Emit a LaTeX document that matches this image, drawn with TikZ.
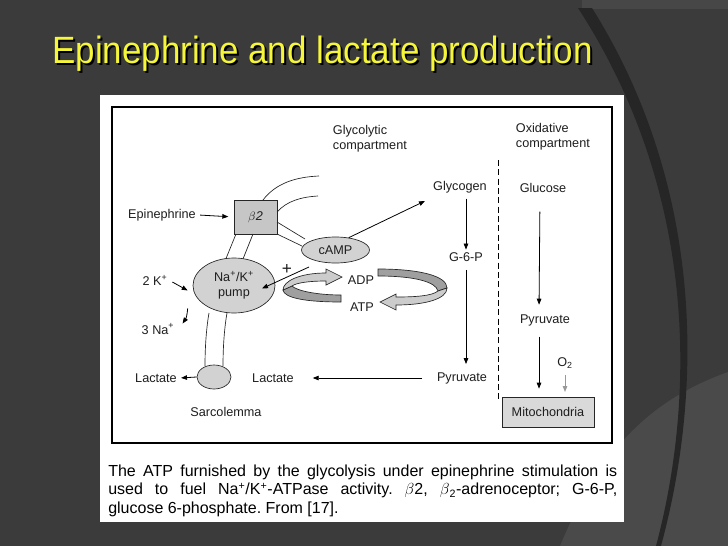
\documentclass[tikz,border=0pt]{standalone}
\usepackage{fontspec}
\setmainfont{Liberation Sans}
\usetikzlibrary{arrows.meta,shapes.geometric}
\definecolor{bg}{HTML}{3B3B3B}
\definecolor{bgtop}{HTML}{474747}
\definecolor{bglight}{HTML}{4A4A4A}
\definecolor{bgdark}{HTML}{262626}
\definecolor{ttl}{HTML}{F5F53A}
\definecolor{txt}{HTML}{1E1E1E}
\newcommand{\labfont}{\fontsize{9.5}{11.25}\selectfont}
\begin{document}
\frenchspacing
\begin{tikzpicture}[x=0.75pt,y=-0.75pt,
  lab/.style={font=\labfont, text=txt, inner sep=2pt},
  arr/.style={-{Triangle[length=4.5pt,width=3.4pt]}, line width=0.6pt, draw=black},
  garr/.style={-{Triangle[length=4.5pt,width=3.4pt]}, line width=0.7pt, draw=gray!80, color=gray!80},
  memb/.style={line width=0.5pt, draw=black!85},
  grayshape/.style={draw=black!85, line width=0.5pt, fill=gray!35},
  ribbonlight/.style={draw=black!85, line width=0.5pt, fill=gray!40},
  ribbondark/.style={draw=black!85, line width=0.5pt, fill=gray!75}
]
\useasboundingbox (0,0) rectangle (728,546);
% background
\fill[bg] (0,0) rectangle (728,546);
\fill[bgtop] (582,0) rectangle (728,9);
\fill[bglight] (560,546) .. controls (600,450) and (650,400) .. (728,372) -- (728,546) -- cycle;
\fill[bgdark] (578,8) .. controls (690,180) and (700,380) .. (656,546) -- (661,546) .. controls (706,380) and (700,180) .. (592,8) -- cycle;
% title
\node[anchor=base west, xscale=0.92, inner sep=0, font=\fontsize{28.5}{34}\selectfont, text=black] (titleshadow) at (54,65) {Epinephrine and lactate production};
\node[anchor=base west, xscale=0.92, inner sep=0, font=\fontsize{28.5}{34}\selectfont, text=ttl] (title) at (52,63) {Epinephrine and lactate production};
% white panel and frame
\fill[white] (100,95) rectangle (624,522);
\draw[line width=1.5pt] (112,107) rectangle (612,443);
% compartment labels
\node[lab, anchor=west, align=left] (glycomp) at (330,139) {Glycolytic\\compartment};
\node[lab, anchor=west, align=left] (oxcomp) at (513,137) {Oxidative\\compartment};
% dashed separator
\coordinate (dtop) at (498,160);
\coordinate (dbot) at (498,402);
\draw[line width=0.6pt, dash pattern=on 4.5pt off 2.5pt] (dtop) -- (dbot);
% glycolytic pathway
\node[lab] (glycogen) at (460,187) {Glycogen};
\node[lab] (g6p) at (466,257) {G-6-P};
\node[lab] (pyrg) at (462,378) {Pyruvate};
\node[lab] (lacm) at (273,378) {Lactate};
\draw[arr, shorten <=2pt] (glycogen.south -| g6p.north) -- (g6p.north);
\draw[arr, shorten <=4pt, shorten >=4pt] (g6p.south) -- (g6p.south |- pyrg.north);
\draw[arr, shorten <=9pt, shorten >=12pt] (pyrg.west) -- (lacm.east);
% oxidative pathway
\node[lab] (glucose) at (543,188) {Glucose};
\node[lab] (pyro) at (545,320) {Pyruvate};
\node[lab] (o2) at (565,363) {O\textsubscript{2}};
\node[draw=black!85, line width=0.5pt, fill=gray!30, minimum width=69pt, minimum height=22.5pt, font=\labfont, text=txt] (mito) at (548,412) {Mitochondria};
\draw[arr, shorten <=12pt, shorten >=5pt] ([xshift=-2.25pt]glucose.south) -- ([xshift=-4.5pt]pyro.north);
\draw[arr, shorten <=6pt, shorten >=6pt] ([xshift=-4.5pt]pyro.south) -- ([xshift=-4.5pt]pyro.south |- mito.north);
\draw[garr, shorten <=3pt, shorten >=3.5pt] (o2.south) -- (o2.south |- mito.north);
% receptor and signalling
\node[lab] (epi) at (162,215) {Epinephrine};
\node[draw=black!85, line width=0.5pt, fill=gray!45, minimum width=32.25pt, minimum height=25.5pt, inner sep=0, font=\labfont, text=txt] (beta) at (255.5,217) {$\beta$\textit{2}};
\draw[arr, shorten <=1pt, shorten >=4pt] (epi.east) -- (beta.west);
\node[ellipse, grayshape, minimum width=51pt, minimum height=19.5pt, inner sep=0, font=\labfont, text=txt] (camp) at (335.5,250) {cAMP};
\draw[arr] (camp.43) -- ([shift={(-4pt,-10.5pt)}]glycogen.west);
% membrane curves from receptor
\draw[memb] (263,200) .. controls (276,183) and (296,177) .. (319,176);
\draw[memb] (277,212) .. controls (287,201) and (301,197) .. (318,196);
\draw[memb] (277,222) -- (305,239);
\draw[memb] (277,234) -- (302,246);
\draw[memb] (236,234) -- (225,261);
\draw[memb] (253,234) -- (243,259);
% pump
\node[ellipse, grayshape, minimum width=61.5pt, minimum height=41.25pt, inner sep=0, align=center, font=\labfont, text=txt] (pump) at (234,285.5) {Na\textsuperscript{+}/K\textsuperscript{+}\\pump};
\node[lab] (twok) at (155,280) {2 K\textsuperscript{+}};
\node[lab] (threena) at (158,329) {3 Na\textsuperscript{+}};
\draw[arr] ([shift={(1.5pt,-1.5pt)}]twok.east) -- ([shift={(-3.75pt,-3.75pt)}]pump.west);
\draw[arr] ([shift={(-3.75pt,-17.25pt)}]pump.west) to[bend left=15] ([shift={(4pt,-2pt)}]threena.north east);
% lower membrane tube and sarcolemma
\draw[memb] (209,313) .. controls (206,330) and (205,350) .. (205,366);
\draw[memb] (227,313) .. controls (224,330) and (223,350) .. (223,366);
\node[ellipse, grayshape, minimum width=25.5pt, minimum height=18pt, inner sep=0] (sarc) at (214,377) {};
\node[lab] (lacl) at (156,378) {Lactate};
\node[lab] (sarcolemma) at (226,412) {Sarcolemma};
\draw[arr, shorten >=1pt] (sarc.west) -- (lacl.east);
% ATP / ADP cycle
\node[lab] (adp) at (361,280) {ADP};
\node[lab] (atp) at (362,307) {ATP};
\node[font=\fontsize{13}{14}\selectfont, text=txt, inner sep=0] (plus) at (287,269) {+};
\coordinate (plusstart) at (309,267);
\draw[arr] (plusstart) -- ([shift={(21pt,-2.25pt)}]pump.center);
% left ribbon
\draw[ribbondark] (341,295) -- (341,302) .. controls (306,302) and (284,298) .. (283,290) -- (292,286) .. controls (297,291) and (318,295) .. (341,295) -- cycle;
\draw[ribbonlight] (283,290) .. controls (283,281) and (300,273) .. (326,273) -- (326,269) -- (342,277) -- (326,285) -- (326,281) .. controls (308,281) and (296,283) .. (292,286) -- cycle;
% right ribbon
\draw[ribbondark] (378,269) .. controls (420,269) and (447,276) .. (447,288) -- (438,291) .. controls (436,282) and (415,276) .. (378,276) -- cycle;
\draw[ribbonlight] (447,288) .. controls (447,299) and (425,305) .. (396,305) -- (396,310) -- (380,302) -- (396,294) -- (396,297) .. controls (415,297) and (432,296) .. (438,291) -- cycle;
% caption
\node[anchor=base west, text width=381.75pt, align=justify, inner sep=0, font=\fontsize{12}{13.8}\selectfont, text=black] (caption) at (108,476.5) {\hyphenpenalty=10000 The ATP furnished by the glycolysis under epinephrine stimulation is\linebreak used to fuel Na\textsuperscript{+}/K\textsuperscript{+}-ATPase activity. $\beta$2, $\beta$\textsubscript{2}-adrenoceptor; G-6-P,\linebreak glucose 6-phosphate. From [17].};
\end{tikzpicture}
\end{document}
